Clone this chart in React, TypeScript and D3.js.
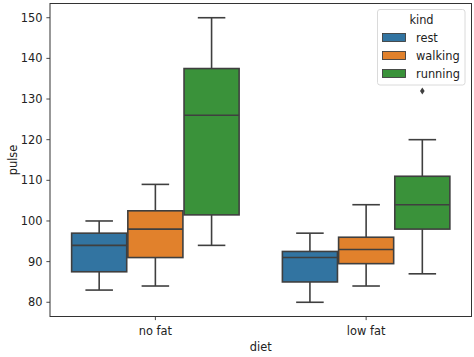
import React from "react";
import * as d3 from "d3";

const diets = ["no fat", "low fat"];
const kinds = ["rest", "walking", "running"];
const colors = ["#3274a1", "#e1812c", "#3a923a"];
// five-number summaries per kind: [whiskerLow, q1, median, q3, whiskerHigh], one per diet
const restStats = [[83, 87.5, 94, 97, 100], [80, 85, 91, 92.5, 97]];
const walkingStats = [[84, 91, 98, 102.5, 109], [84, 89.5, 93, 96, 104]];
const runningStats = [[94, 101.5, 126, 137.5, 150], [87, 98, 104, 111, 120]];
const runningOutliers = [[], [132]];
const yTicks = [80, 90, 100, 110, 120, 130, 140, 150];

const stats = [restStats, walkingStats, runningStats];
const outliers = [[[], []], [[], []], runningOutliers];

export default function App() {
  const W = 474, H = 357;
  const m = { l: 50, r: 471.5, t: 3.5, b: 316.5 };
  const font = "DejaVu Sans, sans-serif";
  const fs = 11.4;
  const y = d3.scaleLinear().domain([76.5, 153.5]).range([m.b, m.t]);
  const x = d3.scaleLinear().domain([-0.5, 1.5]).range([m.l, m.r]);
  const slot = (x(0.8 / 3) - x(0));
  const bw = slot * 0.98;
  const line = "#3f3f3f";
  const lw = 1.6;

  return (
    <svg width={W} height={H} style={{ position: "absolute", left: 0, top: 0 }} fontFamily={font}>
      <rect x={0} y={0} width={W} height={H} fill="white" />
      {diets.map((d, i) =>
        kinds.map((k, j) => {
          const [lo, q1, med, q3, hi] = stats[j][i];
          const cx = x(i) + (j - 1) * slot;
          return (
            <g key={d + k}>
              <line x1={cx} x2={cx} y1={y(q3)} y2={y(hi)} stroke={line} strokeWidth={lw} />
              <line x1={cx} x2={cx} y1={y(q1)} y2={y(lo)} stroke={line} strokeWidth={lw} />
              <line x1={cx - bw / 4} x2={cx + bw / 4} y1={y(hi)} y2={y(hi)} stroke={line} strokeWidth={lw} />
              <line x1={cx - bw / 4} x2={cx + bw / 4} y1={y(lo)} y2={y(lo)} stroke={line} strokeWidth={lw} />
              <rect x={cx - bw / 2} y={y(q3)} width={bw} height={y(q1) - y(q3)} fill={colors[j]} stroke={line} strokeWidth={lw} />
              <line x1={cx - bw / 2} x2={cx + bw / 2} y1={y(med)} y2={y(med)} stroke={line} strokeWidth={lw} />
              {outliers[j][i].map((o, n) => (
                <path key={n} d={`M${cx},${y(o) - 3.5} L${cx + 2.3},${y(o)} L${cx},${y(o) + 3.5} L${cx - 2.3},${y(o)} Z`} fill={line} />
              ))}
            </g>
          );
        })
      )}
      {/* spines */}
      <rect x={m.l} y={m.t} width={m.r - m.l} height={m.b - m.t} fill="none" stroke="#333" strokeWidth={1} />
      {/* y ticks */}
      {yTicks.map((t) => (
        <g key={t}>
          <line x1={m.l - 3.6} x2={m.l} y1={y(t)} y2={y(t)} stroke="#333" strokeWidth={0.9} />
          <text x={m.l - 7.5} y={y(t)} dy="0.36em" textAnchor="end" fontSize={fs} fill="#222">{t}</text>
        </g>
      ))}
      {/* x ticks */}
      {diets.map((d, i) => (
        <g key={d}>
          <line x1={x(i)} x2={x(i)} y1={m.b} y2={m.b + 3.6} stroke="#333" strokeWidth={0.9} />
          <text x={x(i)} y={m.b + 18} textAnchor="middle" fontSize={fs} fill="#222">{d}</text>
        </g>
      ))}
      <text x={(m.l + m.r) / 2} y={351} textAnchor="middle" fontSize={fs} fill="#222">diet</text>
      <text transform={`translate(16.5,${(m.t + m.b) / 2}) rotate(-90)`} textAnchor="middle" fontSize={fs} fill="#222">pulse</text>
      {/* legend */}
      <g>
        <rect x={377.5} y={9.5} width={87.5} height={75.5} rx={2.5} fill="white" fillOpacity={0.8} stroke="#d6d6d6" strokeWidth={0.9} />
        <text x={421.5} y={19.5} dy="0.36em" textAnchor="middle" fontSize={fs} fill="#222">kind</text>
        {kinds.map((k, j) => (
          <g key={k}>
            <rect x={382.5} y={33.5 + j * 18} width={23} height={8} fill={colors[j]} stroke={line} strokeWidth={0.9} />
            <text x={416} y={37.5 + j * 18} dy="0.36em" fontSize={fs} fill="#222">{k}</text>
          </g>
        ))}
      </g>
    </svg>
  );
}
